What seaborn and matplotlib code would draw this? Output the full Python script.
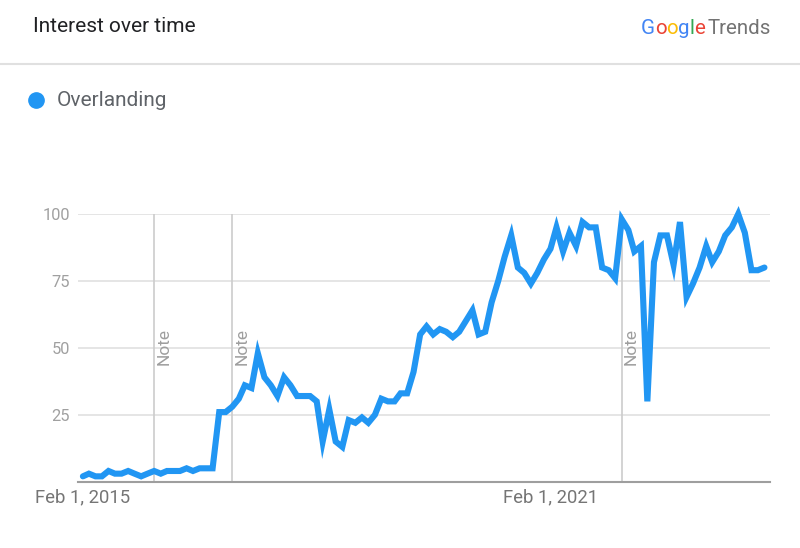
import pandas as pd
import matplotlib
matplotlib.use("Agg")
import matplotlib.pyplot as plt
import seaborn as sns

# monthly interest values, Feb 2015 onwards
values = [2, 3, 2, 2, 4, 3, 3, 4, 3, 2, 3, 4, 3, 4, 4, 4, 5, 4, 5, 5,
          5, 26, 26, 28, 31, 36, 35, 48, 39, 36, 32, 39, 36, 32, 32, 32, 30, 15, 27, 15,
          13, 23, 22, 24, 22, 25, 31, 30, 30, 33, 33, 41, 55, 58, 55, 57, 56, 54, 56, 60,
          64, 55, 56, 67, 75, 84, 92, 80, 78, 74, 78, 83, 87, 95, 86, 93, 88, 97, 95, 95,
          80, 79, 76, 98, 94, 86, 88, 30, 82, 92, 92, 81, 97, 69, 74, 80, 88, 82, 86, 92,
          95, 100, 93, 79, 79, 80]
start_month = "2015-02-01"
note_dates = ["2016-01-01", "2017-01-01", "2022-01-01"]
xtick_dates = ["2015-02-01", "2021-02-01"]
xtick_labels = ["Feb 1, 2015", "Feb 1, 2021"]
ytick_values = [25, 50, 75, 100]
series_name = "Overlanding"

df = pd.DataFrame({"date": pd.date_range(start_month, periods=len(values), freq="MS"),
                   "interest": values})

sns.set_style("white")
plt.rcParams["font.family"] = ["Roboto", "DejaVu Sans"]

blue = "#2196F3"
fig = plt.figure(figsize=(8, 5.48), dpi=100)
ax = fig.add_axes([0.0975, 0.121, 0.865, 0.4885])

# grid lines
for v in ytick_values:
    ax.axhline(v, color="#e0e0e0", lw=1.2, zorder=0)

# note lines
for d in note_dates:
    ax.axvline(pd.Timestamp(d), color="#cccccc", lw=1.2, zorder=1)
    ax.annotate("Note", xy=(pd.Timestamp(d), 43.5), xytext=(1.5, 0), textcoords="offset points",
                rotation=90, ha="left", va="bottom", color="#9e9e9e", fontsize=12.5)

sns.lineplot(data=df, x="date", y="interest", ax=ax, color=blue, lw=4.4, zorder=3,
             clip_on=False, solid_joinstyle="miter")

ax.set_ylim(0, 100)
ax.set_xlim(df["date"].iloc[0] - pd.Timedelta(days=23), df["date"].iloc[-1] + pd.Timedelta(days=26))
ax.set_yticks(ytick_values)
ax.set_yticklabels([str(v) for v in ytick_values], color="#a0a0a0", fontsize=11.8)
ax.set_xticks([pd.Timestamp(d) for d in xtick_dates])
ax.set_xticklabels(xtick_labels, color="#757575", fontsize=13.3)
ax.tick_params(axis="both", length=0)
ax.tick_params(axis="y", pad=6)
ax.tick_params(axis="x", pad=5)
ax.set_xlabel("")
ax.set_ylabel("")
for s in ["top", "right", "left"]:
    ax.spines[s].set_visible(False)
ax.spines["bottom"].set_color("#9e9e9e")
ax.spines["bottom"].set_linewidth(1.5)

# header
fig.text(33 / 800, 1 - 27 / 548, "Interest over time", fontsize=15, color="#202124",
         ha="left", va="center")
fig.add_artist(plt.Line2D([0, 1], [1 - 64 / 548] * 2, color="#e0e0e0", lw=1.5))

# Google Trends logo
renderer = fig.canvas.get_renderer()
logo_colors = ["#4285F4", "#EA4335", "#FBBC05", "#4285F4", "#34A853", "#EA4335"]
xpos = 641
for ch, c in zip("Google", logo_colors):
    t = fig.text(xpos / 800, 1 - 29 / 548, ch, fontsize=14.8, color=c, ha="left", va="center")
    xpos += t.get_window_extent(renderer).width * 0.995
fig.text((xpos + 2) / 800, 1 - 29 / 548, "Trends", fontsize=14.8, color="#737373",
         ha="left", va="center")

# legend
fig.add_artist(plt.Line2D([36 / 800], [1 - 100 / 548], marker="o", markersize=11,
                          color=blue, lw=0))
fig.text(57 / 800, 1 - 100 / 548, series_name, fontsize=15, color="#5f6368",
         ha="left", va="center")

fig.savefig("out.png", dpi=100)
